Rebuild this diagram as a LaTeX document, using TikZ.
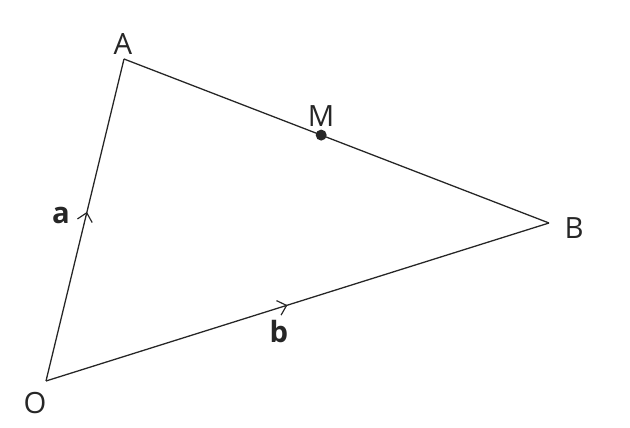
\documentclass[tikz,border=0pt]{standalone}
\usepackage{fontspec}
\setmainfont{Open Sans}
\usetikzlibrary{decorations.markings,arrows.meta}
\begin{document}
\begin{tikzpicture}[x=0.03cm,y=-0.03cm,
  edge/.style={line width=1.1pt,black!85},
  lbl/.style={font=\fontsize{25}{27}\selectfont,text=black!85,inner sep=0pt},
  midarrow/.style={postaction={decorate},decoration={markings,
     mark=at position #1 with {\arrow{Straight Barb[length=7pt,width=13pt,line width=1pt]}}}}]
\useasboundingbox (0,0) rectangle (630,428);
\coordinate (O) at (46,381);
\coordinate (A) at (124,59);
\coordinate (B) at (549,223);
\draw[edge,midarrow=0.525] (O) -- (A);
\draw[edge,midarrow=0.48] (O) -- (B);
\draw[edge] (A) -- (B) coordinate[pos=0.464] (M);
\fill[black!85] (M) circle (5.5);
\node[lbl] (lA) at (123,44) {A};
\node[lbl] (lM) at (321,116) {M};
\node[lbl] (lB) at (574,228) {B};
\node[lbl] (lO) at (35,403) {O};
\node[lbl,font=\fontsize{25}{27}\selectfont\bfseries] (la) at (61,215) {a};
\node[lbl,font=\fontsize{25}{27}\selectfont\bfseries] (lb) at (279,332) {b};
\end{tikzpicture}
\end{document}
